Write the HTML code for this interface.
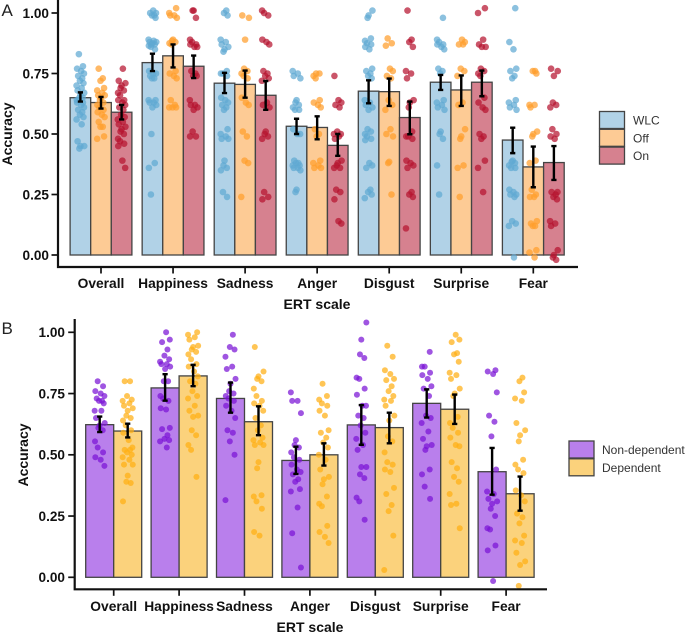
<!DOCTYPE html>
<html>
<head>
<meta charset="utf-8">
<style>
html,body{margin:0;padding:0;background:#fff;width:685px;height:633px;overflow:hidden}
svg{display:block;filter:blur(0.35px)}
text{font-family:"Liberation Sans",sans-serif}
</style>
</head>
<body>
<svg id="chart" width="685" height="633" viewBox="0 0 685 633" xmlns="http://www.w3.org/2000/svg"></svg>
<script>
const categories = ["Overall","Happiness","Sadness","Anger","Disgust","Surprise","Fear"];
const yTickValues = [0,0.25,0.5,0.75,1];
const yTickLabels = ["0.00","0.25","0.50","0.75","1.00"];

const seriesA = ["WLC","Off","On"];
const meansWLC = [.65,.795,.71,.532,.677,.714,.475];
const meansOff = [.63,.823,.705,.527,.675,.682,.364];
const meansOn  = [.59,.78,.66,.453,.568,.714,.382];
const errLowWLC = [.634,.76,.669,.50,.627,.682,.421];
const errHighWLC = [.672,.832,.753,.563,.722,.744,.526];
const errLowOff = [.605,.775,.65,.478,.616,.616,.28];
const errHighOff = [.653,.87,.762,.573,.729,.742,.448];
const errLowOn = [.56,.731,.60,.41,.499,.656,.31];
const errHighOn = [.62,.824,.719,.50,.634,.762,.45];
const pointsWLC = [
 [.83,.78,.77,.76,.75,.74,.73,.72,.71,.70,.69,.68,.67,.66,.65,.65,.64,.64,.63,.63,.62,.61,.60,.59,.58,.57,.56,.54,.47,.45,.45,.44],
 [1.01,1.0,1.0,.99,.99,.98,.89,.885,.88,.88,.875,.87,.87,.865,.86,.85,.76,.75,.75,.74,.73,.73,.64,.64,.63,.63,.62,.61,.50,.38,.36,.25],
 [1.01,1.0,.99,.89,.88,.87,.86,.85,.84,.76,.75,.75,.74,.65,.64,.63,.62,.61,.60,.52,.50,.49,.48,.48,.39,.37,.36,.35,.26,.24],
 [.76,.75,.74,.73,.64,.63,.62,.61,.60,.60,.52,.50,.50,.39,.38,.38,.37,.37,.36,.36,.35,.27,.26],
 [1.01,.99,.98,.895,.885,.875,.87,.86,.85,.77,.76,.75,.74,.73,.64,.63,.62,.61,.60,.52,.51,.50,.49,.48,.475,.38,.37,.36,.27,.26,.25,.235],
 [.98,.89,.88,.87,.87,.86,.85,.77,.76,.75,.64,.63,.62,.61,.60,.51,.50,.48,.37,.25],
 [1.02,.88,.85,.77,.76,.74,.73,.64,.63,.62,.61,.60,.39,.385,.38,.37,.36,.36,.27,.26,.25,.25,.24,.14,.13,.12,-.01]
];
const pointsOff = [
 [.77,.73,.72,.69,.68,.67,.66,.66,.65,.64,.63,.62,.61,.60,.59,.58,.57,.55,.53,.53,.49,.48],
 [1.02,1.0,.99,.99,.98,.89,.885,.88,.875,.87,.76,.75,.74,.73,.64,.62,.61,.61,.61],
 [.99,.98,.89,.77,.76,.75,.74,.73,.65,.63,.62,.51,.49,.39,.38,.24],
 [.75,.75,.74,.73,.64,.63,.62,.61,.52,.50,.49,.39,.38,.37,.36,.36],
 [.895,.875,.865,.77,.76,.74,.73,.64,.62,.60,.52,.50,.49,.385,.38,.25],
 [.89,.88,.87,.87,.77,.76,.74,.63,.62,.52,.49,.48,.37,.36,.24],
 [.76,.76,.75,.62,.62,.61,.51,.50,.49,.39,.38,.27,.25,.24,.24,.14,.13,.12,.12,.02,.01,-.01]
];
const pointsOn = [
 [.77,.72,.71,.70,.69,.68,.67,.66,.64,.64,.63,.62,.61,.60,.58,.57,.56,.55,.54,.53,.52,.51,.50,.48,.47,.46,.45,.39,.36],
 [1.01,1.01,.98,.89,.88,.87,.87,.86,.86,.76,.75,.74,.74,.64,.62,.62,.61,.60,.51,.49,.49],
 [1.01,1.0,.99,.89,.88,.87,.76,.75,.74,.73,.72,.63,.62,.61,.51,.50,.49,.48,.26,.24,.23],
 [.74,.64,.63,.62,.61,.51,.50,.50,.49,.48,.39,.38,.37,.36,.36,.27,.26,.23,.14,.13],
 [1.01,.89,.88,.86,.76,.75,.73,.64,.63,.61,.51,.49,.49,.48,.39,.38,.37,.36,.26,.25,.24,.11],
 [1.02,1.0,.89,.87,.86,.86,.77,.76,.75,.74,.65,.63,.61,.60,.50,.49,.48,.39,.36,.26],
 [.77,.76,.74,.63,.62,.61,.52,.50,.49,.48,.26,.26,.25,.24,.23,.14,.13,.12,.02,.0,-.01,-.02]
];

const seriesB = ["Non-dependent","Dependent"];
const meansNon = [.623,.773,.73,.477,.622,.71,.431];
const meansDep = [.597,.822,.635,.5,.611,.686,.341];
const errLowNon = [.593,.721,.672,.422,.541,.652,.337];
const errHighNon = [.656,.829,.795,.533,.703,.767,.528];
const errLowDep = [.571,.78,.58,.456,.547,.626,.272];
const errHighDep = [.627,.867,.698,.547,.672,.746,.411];
const pointsNon = [
 [.80,.78,.76,.75,.74,.73,.72,.72,.71,.68,.68,.65,.63,.62,.61,.60,.555,.53,.51,.49,.48,.455],
 [1.0,.97,.96,.93,.905,.89,.88,.87,.87,.86,.85,.80,.80,.74,.73,.72,.69,.685,.61,.605,.58,.565,.56,.555,.53],
 [.99,.94,.93,.90,.86,.85,.81,.79,.76,.75,.74,.73,.72,.70,.68,.65,.60,.59,.555,.50,.315],
 [.755,.72,.72,.67,.56,.54,.53,.51,.49,.48,.46,.44,.43,.42,.40,.39,.36,.35,.285,.18,.04],
 [1.04,.97,.91,.895,.815,.81,.77,.745,.70,.70,.66,.65,.62,.59,.565,.54,.52,.45,.45,.42,.405,.325,.31,.235],
 [.92,.86,.86,.835,.825,.81,.78,.77,.74,.66,.65,.63,.595,.565,.54,.535,.52,.44,.42,.37,.32],
 [.845,.84,.83,.755,.66,.635,.575,.44,.35,.34,.32,.31,.30,.28,.25,.20,.195,.13,.11,-.015]
];
const pointsDep = [
 [.80,.80,.74,.725,.72,.71,.70,.69,.68,.66,.65,.64,.62,.60,.59,.56,.53,.52,.52,.51,.50,.49,.48,.46,.46,.415,.39,.385,.31],
 [1.0,.99,.98,.97,.945,.94,.93,.92,.91,.89,.87,.86,.84,.82,.80,.79,.76,.74,.73,.70,.68,.66,.655,.60,.58,.54,.52,.41],
 [.94,.84,.82,.81,.80,.77,.74,.72,.71,.70,.68,.65,.62,.60,.57,.56,.55,.54,.54,.47,.445,.335,.33,.31,.28,.185,.17],
 [.79,.74,.725,.71,.70,.68,.66,.60,.59,.57,.55,.53,.50,.48,.44,.41,.40,.38,.33,.30,.29,.21,.185,.165,.14],
 [.945,.90,.845,.83,.81,.805,.78,.76,.74,.725,.72,.70,.66,.64,.575,.555,.51,.47,.46,.44,.43,.365,.34,.295,.27,.17,.03],
 [.99,.97,.96,.915,.91,.88,.835,.825,.81,.77,.75,.74,.655,.63,.61,.59,.57,.54,.535,.47,.445,.41,.39,.34,.30,.295,.20],
 [.815,.80,.755,.73,.72,.63,.60,.58,.555,.48,.46,.44,.425,.355,.335,.31,.26,.245,.22,.17,.15,.14,.10,.065,.05,-.035]
];

const jitterCycle = [-.12,.2,-.26,.06,.28,-.18,.14,-.04,.24,-.3,.1,-.22,.3,0,-.08,.18,-.28];

const NS = "http://www.w3.org/2000/svg";
const svg = document.getElementById("chart");
function mk(tag, attrs, parent, txt){
  const e = document.createElementNS(NS, tag);
  for (const k in attrs) e.setAttribute(k, attrs[k]);
  if (txt !== undefined) e.textContent = txt;
  (parent || svg).appendChild(e);
  return e;
}
function slug(s){ return s.toLowerCase().replace(/[^a-z0-9]+/g, "-"); }

const panelA = {
  id:"a", letter:"A", letterY:16, axisX:58, axisY:267, axisTop:0, axisEnd:578,
  y0:255, y1:13, x0:101, step:72.05, barW:20.6, r:3.3, jitterScale:.62,
  labelRight:49, tickLabelY:288, titleY:309, titleX:317, yTitleX:12, yTitleY:134,
  series:[
   {name:seriesA[0],means:meansWLC,lo:errLowWLC,hi:errHighWLC,pts:pointsWLC,fill:"#B1D2E7",dot:"#5FA9D2"},
   {name:seriesA[1],means:meansOff,lo:errLowOff,hi:errHighOff,pts:pointsOff,fill:"#FDCB95",dot:"#FF9E2C"},
   {name:seriesA[2],means:meansOn,lo:errLowOn,hi:errHighOn,pts:pointsOn,fill:"#D6818F",dot:"#B5142F"}
  ],
  legend:{x:599.5,y:111.5,w:25,h:17.8,textX:633}
};
const panelB = {
  id:"b", letter:"B", letterY:334, axisX:74.7, axisY:589.3, axisTop:319, axisEnd:547,
  y0:577.3, y1:332.3, x0:113.7, step:65.4, barW:28, r:3, jitterScale:.6,
  labelRight:65, tickLabelY:611, titleY:632, titleX:310, yTitleX:28, yTitleY:455,
  series:[
   {name:seriesB[0],means:meansNon,lo:errLowNon,hi:errHighNon,pts:pointsNon,fill:"#B97FEC",dot:"#7A14D6"},
   {name:seriesB[1],means:meansDep,lo:errLowDep,hi:errHighDep,pts:pointsDep,fill:"#FBD27C",dot:"#FFAE14"}
  ],
  legend:{x:569,y:441,w:25,h:17.8,textX:602}
};

function drawPanel(p){
  const g = mk("g", {}, svg);
  
  
  const yS = v => p.y0 + (p.y1 - p.y0) * v;
  const xS = i => p.x0 + p.step * i;
  const n = p.series.length;
  const left = (i, s) => xS(i) - n * p.barW / 2 + s * p.barW;

  const letter = mk("text", {x:1.5, y:p.letterY, "font-size":17, fill:"#222"}, g, p.letter);
  
  

  p.series.forEach((s, si) => s.means.forEach((m, i) => {
    const b = mk("rect", {x:left(i, si), y:yS(m), width:p.barW, height:yS(0) - yS(m), fill:s.fill, stroke:"#444", "stroke-width":1.3}, g);
    
    
  }));

  p.series.forEach((s, si) => s.pts.forEach((vals, i) => {
    const cx = left(i, si) + p.barW / 2;
    vals.forEach((v, k) => {
      const c = mk("circle", {cx:cx + jitterCycle[(k + si * 5 + i * 3) % jitterCycle.length] * p.barW * p.jitterScale, cy:yS(v), r:p.r, fill:s.dot, "fill-opacity":.72}, g);
      
      
    });
  }));

  p.series.forEach((s, si) => s.means.forEach((m, i) => {
    const cx = left(i, si) + p.barW / 2;
    const e = mk("path", {d:`M${cx-2.6} ${yS(s.hi[i])}H${cx+2.6}M${cx} ${yS(s.hi[i])}V${yS(s.lo[i])}M${cx-2.6} ${yS(s.lo[i])}H${cx+2.6}`, fill:"none", stroke:"#000", "stroke-width":2.4}, g);
    
    
  }));

  const ax = mk("path", {d:`M${p.axisX} ${p.axisTop}V${p.axisY}H${p.axisEnd}`, fill:"none", stroke:"#111", "stroke-width":2.2}, g);
  
  

  yTickValues.forEach((v, i) => {
    const t = mk("line", {x1:p.axisX - 6.5, x2:p.axisX, y1:yS(v), y2:yS(v), stroke:"#111", "stroke-width":1.7}, g);
    
    
    const l = mk("text", {x:p.labelRight, y:yS(v) + 4.8, "text-anchor":"end", "font-size":13.6, "font-weight":"bold", fill:"#111"}, g, yTickLabels[i]);
    
    
  });

  categories.forEach((c, i) => {
    const t = mk("line", {x1:xS(i), x2:xS(i), y1:p.axisY, y2:p.axisY + 6.5, stroke:"#111", "stroke-width":1.7}, g);
    
    
    const l = mk("text", {x:xS(i), y:p.tickLabelY, "text-anchor":"middle", "font-size":13.8, "font-weight":"bold", fill:"#111"}, g, c);
    
    
  });

  const xt = mk("text", {x:p.titleX, y:p.titleY, "text-anchor":"middle", "font-size":14, "font-weight":"bold", fill:"#111"}, g, "ERT scale");
  
  
  const yt = mk("text", {x:0, y:0, transform:`translate(${p.yTitleX} ${p.yTitleY}) rotate(-90)`, "text-anchor":"middle", "font-size":14, "font-weight":"bold", fill:"#111"}, g, "Accuracy");
  
  

  p.series.forEach((s, si) => {
    const ky = p.legend.y + si * p.legend.h;
    const k = mk("rect", {x:p.legend.x, y:ky, width:p.legend.w, height:p.legend.h - .8, fill:s.fill, stroke:"#444", "stroke-width":1.3}, g);
    
    
    const l = mk("text", {x:p.legend.textX, y:ky + 13, "font-size":12, fill:"#333"}, g, s.name);
    
    
  });
}
drawPanel(panelA);
drawPanel(panelB);
</script>
</body>
</html>
